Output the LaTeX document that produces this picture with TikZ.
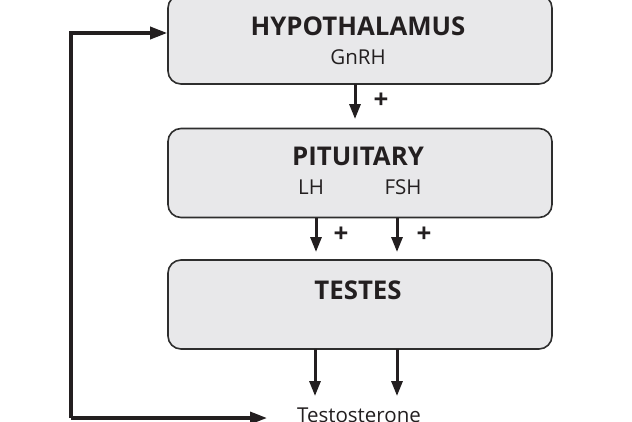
\documentclass[tikz,border=0pt]{standalone}
\usepackage{fontspec}
\setmainfont{Open Sans}
\usetikzlibrary{arrows.meta}
\definecolor{boxfill}{HTML}{E8E8EA}
\definecolor{boxline}{HTML}{2E2E2E}
\definecolor{ink}{HTML}{231F20}
\begin{document}
\begin{tikzpicture}[x=1pt,y=-1pt,
  organ/.style={draw=boxline,line width=1.6pt,fill=boxfill,rounded corners=13pt,
    minimum width=384pt,minimum height=89pt,inner sep=0pt},
  title/.style={font=\bfseries\fontsize{25.8}{28}\selectfont,text=ink,inner sep=0pt},
  hormone/.style={font=\fontsize{20.5}{22}\selectfont,text=ink,inner sep=0pt},
  plus/.style={font=\bfseries\fontsize{26}{28}\selectfont,text=ink,inner sep=0pt},
  flow/.style={draw=ink,line width=3pt,-{Triangle[length=15pt,width=11pt]}},
  fb/.style={draw=ink,line width=3.4pt,-{Triangle[length=17pt,width=12pt]}}]
\useasboundingbox (0,0) rectangle (632,421);
\fill[white] (0,0) rectangle (632,421);

\node[organ] (hypo) at (360,39.5) {};
\node[title] (hypoT) at (358,26) {HYPOTHALAMUS};
\node[hormone] (gnrh) at (358,57) {GnRH};

\node[organ] (pit) at (360,173) {};
\node[title] (pitT) at (358,156) {PITUITARY};
\node[hormone] (lh) at (311,187) {LH};
\node[hormone] (fsh) at (403,187) {FSH};

\node[organ] (tes) at (360,304.5) {};
\node[title] (tesT) at (358,290) {TESTES};

\node[hormone] (testo) at (359,415) {Testosterone};

\coordinate (a1s) at (355,84);
\coordinate (a1e) at (355,119);
\draw[flow] (a1s) -- (a1e);
\node[plus] (p1) at (381,101) {+};

\coordinate (a2s) at (316,218);
\coordinate (a2e) at (316,252);
\coordinate (a3s) at (397,218);
\coordinate (a3e) at (397,252);
\draw[flow] (a2s) -- (a2e);
\draw[flow] (a3s) -- (a3e);
\node[plus] (p2) at (341,235) {+};
\node[plus] (p3) at (424,235) {+};

\coordinate (a4s) at (315,349);
\coordinate (a4e) at (315,396);
\coordinate (a5s) at (397,349);
\coordinate (a5e) at (397,396);
\draw[flow] (a4s) -- (a4e);
\draw[flow] (a5s) -- (a5e);

\coordinate (cBL) at (71,418);
\coordinate (cBR) at (267,418);
\coordinate (cTL) at (71,33);
\draw[fb] (cBL) -- (cBR);
\draw[fb] (cBL) -- (cTL) -- (hypo.west |- cTL);
\end{tikzpicture}
\end{document}
